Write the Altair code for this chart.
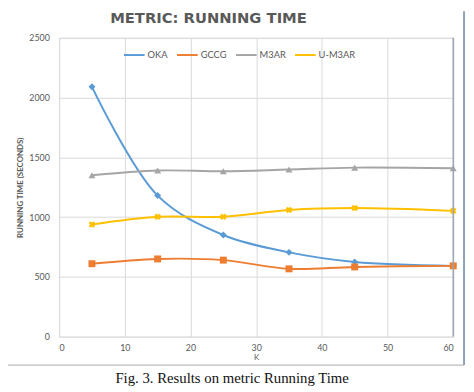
import altair as alt
import pandas as pd

K = [5, 15, 25, 35, 45, 60]
series = ["OKA", "GCCG", "M3AR", "U-M3AR"]
oka = [2090, 1180, 850, 705, 625, 592]
gccg = [610, 650, 640, 567, 583, 592]
m3ar = [1350, 1390, 1383, 1398, 1414, 1408]
um3ar = [938, 1003, 1003, 1060, 1076, 1052]
colors = ["#5B9BD5", "#ED7D31", "#A5A5A5", "#FFC000"]
x_ticks = [0, 10, 20, 30, 40, 50, 60]
y_ticks = [0, 500, 1000, 1500, 2000, 2500]
title_text = "METRIC: RUNNING TIME"
caption_text = "Fig. 3. Results on metric Running Time"

rows = []
for name, vals in zip(series, [oka, gccg, m3ar, um3ar]):
    for k, v in zip(K, vals):
        rows.append({"K": k, "time": v, "series": name})
df = pd.DataFrame(rows)

W, H = 401, 304
FONT = "Lato"
GRAY = "#595959"

xenc = alt.X("K:Q", scale=alt.Scale(domain=[0, 60], nice=False),
             axis=alt.Axis(values=x_ticks, title="K", labelFontSize=9, labelColor=GRAY,
                           labelFont=FONT, titleFont=FONT, titleFontSize=8, titleColor=GRAY,
                           titleFontWeight="normal", titlePadding=1, labelPadding=7,
                           ticks=False, domain=False, gridColor="#D9D9D9"))
yenc = alt.Y("time:Q", scale=alt.Scale(domain=[0, 2500], nice=False),
             axis=alt.Axis(values=y_ticks, format="d", title="RUNNING TIME (SECONDS)",
                           labelFontSize=9, labelColor=GRAY, labelFont=FONT, titleFont=FONT,
                           titleFontSize=8, titleColor=GRAY, titleFontWeight="bold",
                           titlePadding=4, labelPadding=10, ticks=False, domain=False,
                           gridColor="#D9D9D9"))
color_scale = alt.Scale(domain=series, range=colors)

lines = alt.Chart(df).mark_line(interpolate="catmull-rom", strokeWidth=2).encode(
    x=xenc, y=yenc,
    color=alt.Color("series:N", scale=color_scale, sort=series,
                    legend=alt.Legend(orient="none", legendX=65, legendY=6, direction="horizontal",
                                      title=None, symbolType="stroke", symbolSize=441,
                                      symbolStrokeWidth=2, labelFontSize=9.5, labelFont=FONT,
                                      labelColor=GRAY, labelOffset=2, columnPadding=5,
                                      gridAlign="none")),
)

filled_pts = alt.Chart(df).transform_filter(alt.datum.series != "U-M3AR").mark_point(
    filled=True, size=50, opacity=1).encode(
    x="K:Q", y="time:Q",
    color=alt.Color("series:N", scale=color_scale, legend=None),
    shape=alt.Shape("series:N", scale=alt.Scale(domain=series[:3],
                                                range=["diamond", "square", "triangle-up"]),
                    legend=None),
)
x_pts = alt.Chart(df).transform_filter(alt.datum.series == "U-M3AR").mark_point(
    filled=True, size=45, shape="cross", angle=45, opacity=1).encode(
    x="K:Q", y="time:Q",
    color=alt.Color("series:N", scale=color_scale, legend=None),
)

one = pd.DataFrame({"t": [title_text]})
title = alt.Chart(one).mark_text(font="DejaVu Sans", fontWeight="bold", fontSize=15,
                                 color=GRAY, align="center", baseline="middle").encode(
    text="t:N", x=alt.value(152), y=alt.value(-20))
cap = alt.Chart(pd.DataFrame({"t": [caption_text]})).mark_text(
    font="Liberation Serif", fontSize=15, color="#111111", align="center",
    baseline="middle").encode(text="t:N", x=alt.value(176), y=alt.value(346))

right_plot = alt.Chart(pd.DataFrame({"a": [1]})).mark_rule(color="#9AA5B1", strokeWidth=1.5).encode(
    x=alt.value(W), y=alt.value(0), y2=alt.value(H))
frame_r = alt.Chart(pd.DataFrame({"a": [1]})).mark_rule(color="#8EA0B5", strokeWidth=2).encode(
    x=alt.value(412), y=alt.value(-27), y2=alt.value(333))
frame_b = alt.Chart(pd.DataFrame({"a": [1]})).mark_rule(color="#A8A8A8", strokeWidth=1).encode(
    x=alt.value(-52), x2=alt.value(412), y=alt.value(333))

chart = alt.layer(lines, filled_pts, x_pts, title, cap, right_plot, frame_r, frame_b).properties(
    width=W, height=H,
    autosize=alt.AutoSizeParams(type="none"),
    padding={"left": 52, "top": 27, "right": 13, "bottom": 53},
).configure_view(stroke="#D9D9D9").configure(background="white")

chart.save("out.html", embed_options={"renderer": "svg", "actions": False})
